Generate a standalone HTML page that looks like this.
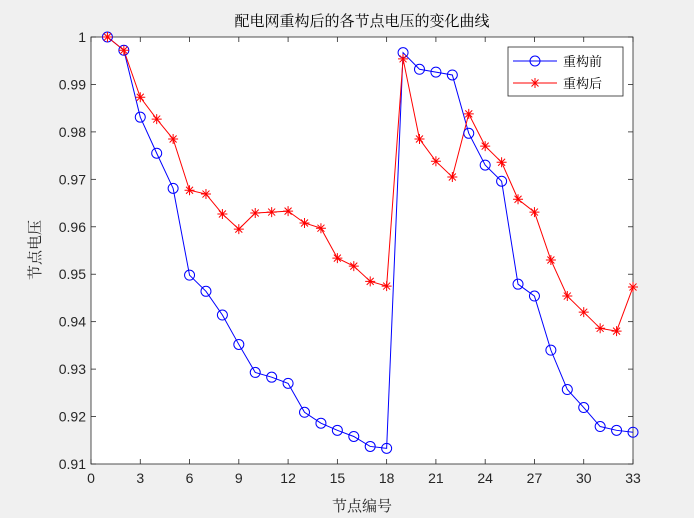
<!DOCTYPE html>
<html><head><meta charset="utf-8"><style>
body{margin:0;background:#f0f0f0;}
svg{display:block;font-family:"Liberation Sans","Noto Sans CJK SC",sans-serif;}
.cjk{font-family:"Liberation Serif","Noto Serif CJK SC",serif;}
</style></head><body>
<svg id="chart" width="694" height="518">
<rect x="0" y="0" width="694" height="518" fill="#f0f0f0"/>
<rect x="91" y="37" width="542" height="427" fill="#fff" stroke="#262626" stroke-width="0.8"/>
<g id="axes"></g>
<g id="series"></g>
<text class="cjk" x="362" y="26" text-anchor="middle" font-size="15" fill="#000">配电网重构后的各节点电压的变化曲线</text>
<text class="cjk" x="362" y="511" text-anchor="middle" font-size="15" fill="#262626">节点编号</text>
<text class="cjk" transform="translate(40,250) rotate(-90)" text-anchor="middle" font-size="15" fill="#262626">节点电压</text>
<g>
<rect x="508" y="47" width="115" height="49" fill="#fff" stroke="#262626" stroke-width="0.8"/>
<g>
<line x1="513" y1="61" x2="557" y2="61" stroke="#0000ff"/>
<circle cx="535" cy="61" r="5" fill="none" stroke="#0000ff"/>
<text class="cjk" x="563" y="66" font-size="13">重构前</text></g>
<g>
<line x1="513" y1="83" x2="557" y2="83" stroke="#ff0000"/>
<path d="M530,83h10M535,78v10M531.5,79.5l7,7M538.5,79.5l-7,7" stroke="#ff0000" fill="none"/>
<text class="cjk" x="563" y="88" font-size="13">重构后</text></g>
</g>
</svg>
<script>
const nodes=[1,2,3,4,5,6,7,8,9,10,11,12,13,14,15,16,17,18,19,20,21,22,23,24,25,26,27,28,29,30,31,32,33];
const before=[1.0,0.9972,0.9831,0.9755,0.9681,0.9498,0.9464,0.9414,0.9352,0.9293,0.9283,0.9270,0.9209,0.9186,0.9171,0.9158,0.9137,0.9133,0.9967,0.9932,0.9926,0.9920,0.9797,0.9730,0.9696,0.9479,0.9454,0.9340,0.9257,0.9219,0.9179,0.9171,0.9167];
const after=[1.0,0.9972,0.9873,0.9827,0.9785,0.9677,0.9669,0.9627,0.9595,0.9629,0.9631,0.9633,0.9608,0.9597,0.9534,0.9517,0.9485,0.9475,0.9954,0.9785,0.9738,0.9705,0.9838,0.9770,0.9736,0.9658,0.9631,0.9530,0.9454,0.9420,0.9386,0.9380,0.9473];
const xTicks=[0,3,6,9,12,15,18,21,24,27,30,33];
const yTicks=[0.91,0.92,0.93,0.94,0.95,0.96,0.97,0.98,0.99,1];
const yLabels=['0.91','0.92','0.93','0.94','0.95','0.96','0.97','0.98','0.99','1'];
const X0=91,X1=633,Y0=464,Y1=37,XMIN=0,XMAX=33,YMIN=0.91,YMAX=1;
const sx=v=>X0+(v-XMIN)/(XMAX-XMIN)*(X1-X0);
const sy=v=>Y0-(v-YMIN)/(YMAX-YMIN)*(Y0-Y1);
const NS='http://www.w3.org/2000/svg';
function mk(tag,attrs,parent){const e=document.createElementNS(NS,tag);for(const k in attrs)e.setAttribute(k,attrs[k]);parent.appendChild(e);return e;}
const axes=document.getElementById('axes'),ser=document.getElementById('series');
xTicks.forEach(t=>{const x=sx(t);
mk('line',{x1:x,y1:Y0,x2:x,y2:Y0-5,stroke:'#262626','stroke-width':0.8},axes);
mk('line',{x1:x,y1:Y1,x2:x,y2:Y1+5,stroke:'#262626','stroke-width':0.8},axes);
const tx=mk('text',{x:x,y:Y0+19,'text-anchor':'middle','font-size':14,fill:'#262626'},axes);tx.textContent=t;

});
yTicks.forEach((t,i)=>{const y=sy(t);
mk('line',{x1:X0,y1:y,x2:X0+5,y2:y,stroke:'#262626','stroke-width':0.8},axes);
mk('line',{x1:X1,y1:y,x2:X1-5,y2:y,stroke:'#262626','stroke-width':0.8},axes);
const tx=mk('text',{x:X0-5,y:y+5,'text-anchor':'end','font-size':14,fill:'#262626'},axes);tx.textContent=yLabels[i];

});
function line(vals,color,name){const pts=vals.map((v,i)=>sx(nodes[i])+','+sy(v)).join(' ');
const p=mk('polyline',{points:pts,fill:'none',stroke:color,'stroke-width':1},ser);

}
line(before,'#0000ff','line-before');
line(after,'#ff0000','line-after');
before.forEach((v,i)=>{const c=mk('circle',{cx:sx(nodes[i]),cy:sy(v),r:5,fill:'none',stroke:'#0000ff'},ser);

});
after.forEach((v,i)=>{const x=sx(nodes[i]),y=sy(v);
const d='M'+(x-5)+','+y+'h10M'+x+','+(y-5)+'v10M'+(x-3.5)+','+(y-3.5)+'l7,7M'+(x+3.5)+','+(y-3.5)+'l-7,7';
const p=mk('path',{d:d,stroke:'#ff0000',fill:'none','stroke-width':1},ser);

});
</script>
</body></html>
